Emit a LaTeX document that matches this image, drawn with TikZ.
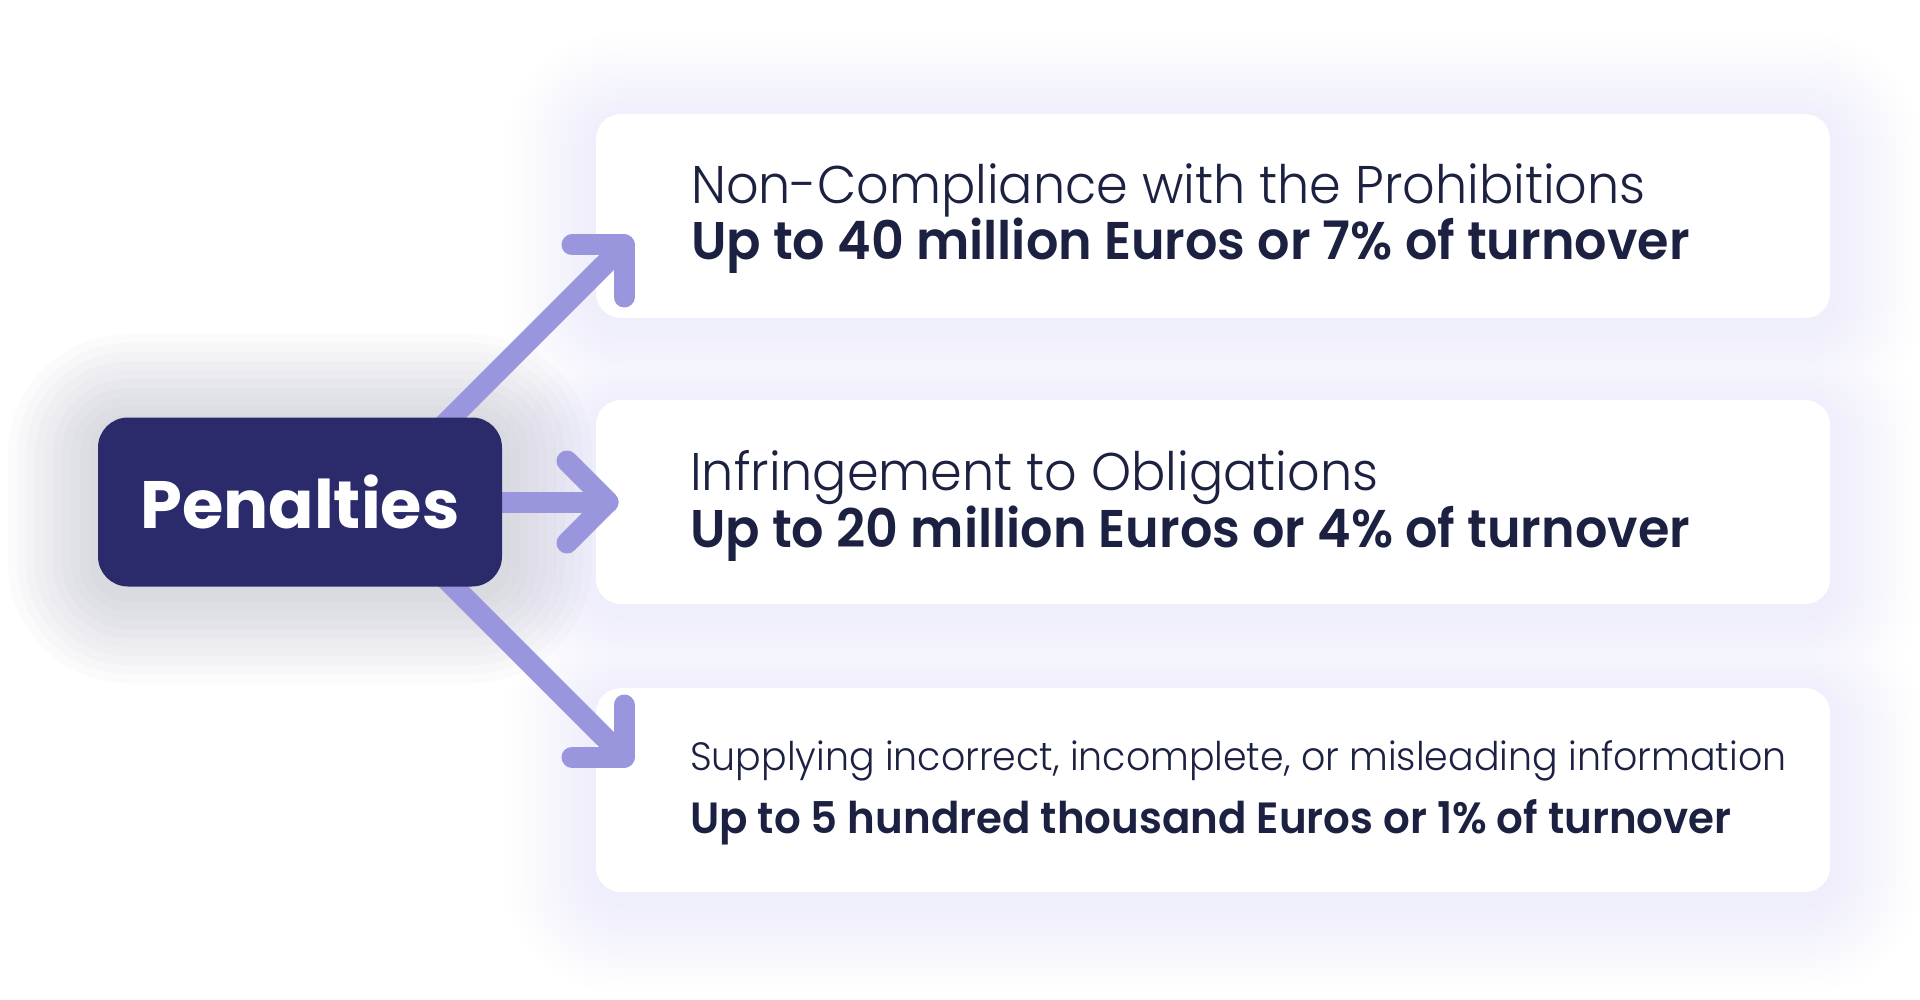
\documentclass[tikz,border=0pt]{standalone}
\usepackage{fontspec}
\setmainfont{Poppins}
\newfontfamily\lightf[FakeStretch=0.96]{Poppins Light}
\newfontfamily\boldf[FakeStretch=0.96]{Poppins SemiBold}
\newfontfamily\penf{Poppins Bold}
\usetikzlibrary{calc}
\definecolor{navy}{HTML}{2B2B6C}
\definecolor{lav}{HTML}{9996DD}
\definecolor{txt}{HTML}{1C2142}
\definecolor{glowmax}{HTML}{EFEEFB}
\definecolor{pshadow}{HTML}{646482}
\tikzset{
  card/.style={fill=white, rounded corners=25pt, minimum width=1234pt, minimum height=204pt, inner sep=0pt},
  penbox/.style={fill=navy, rounded corners=30pt, minimum width=404pt, minimum height=169pt, text=white, font=\penf\fontsize{67}{70}\selectfont, inner sep=0pt},
  arr/.style={draw=lav, line width=21pt, line cap=round, line join=round},
  lighttxt/.style={anchor=base west, text=txt, font=\lightf\fontsize{53}{58}\selectfont, inner sep=0pt},
  lightsmall/.style={anchor=base west, text=txt, font=\lightf\fontsize{39.5}{44}\selectfont, inner sep=0pt},
  boldtxt/.style={anchor=base west, text=txt, font=\boldf\fontsize{53}{58}\selectfont, inner sep=0pt},
  boldsmall/.style={anchor=base west, text=txt, font=\boldf\fontsize{43.7}{48}\selectfont, inner sep=0pt},
}
\begin{document}
\begin{tikzpicture}[x=1pt,y=-1pt]
\useasboundingbox (0,0) rectangle (1920,1000);
\fill[white] (0,0) rectangle (1920,1000);
% card glows (solid rings, outer to inner)
\foreach \k in {15,...,1} {
  \pgfmathsetmacro{\e}{6*\k}
  \pgfmathsetmacro{\r}{25+6*\k}
  \pgfmathtruncatemacro{\p}{100*(16-\k)/15}
  \foreach \cy in {216,502,790} {
    \fill[fill=glowmax!\p!white, rounded corners=\r pt]
      (596-\e, \cy-102-\e+10) rectangle (1830+\e, \cy+102+\e+10);
  }
}
% penalties shadow (translucent)
\foreach \k in {1,...,10} {
  \pgfmathsetmacro{\e}{9*\k}
  \pgfmathsetmacro{\r}{30+9*\k}
  \fill[pshadow, opacity=0.025, rounded corners=\r pt]
    (98-\e, 418-\e+6) rectangle (502+\e, 587+\e+6);
}
% cards
\node[card] (c1) at (1213,216) {};
\node[card] (c2) at (1213,502) {};
\node[card] (c3) at (1213,790) {};
% arrows
\coordinate (s1) at (440,429);
\coordinate (t1) at (624,245);
\coordinate (s2) at (470,502);
\coordinate (t2) at (608,502);
\coordinate (s3) at (440,573);
\coordinate (t3) at (624,757);
\draw[arr] (s1) -- (t1);
\draw[arr] ($(t1)+(-52,0)$) -- (t1) -- ($(t1)+(0,52)$);
\draw[arr] (s2) -- (t2);
\draw[arr] ($(t2)+(-41,-41)$) -- (t2) -- ($(t2)+(-41,41)$);
\draw[arr] (s3) -- (t3);
\draw[arr] ($(t3)+(-52,0)$) -- (t3) -- ($(t3)+(0,-52)$);
% penalties
\node[penbox] (pen) at (300,502) {Penalties};
% texts
\node[lighttxt] (l1) at (691,204) {Non-Compliance with the Prohibitions};
\node[boldtxt] (b1) at (691,260) {Up to 40 million Euros or 7\% of turnover};
\node[lighttxt] (l2) at (690,490) {Infringement to Obligations};
\node[boldtxt] (b2) at (690,547) {Up to 20 million Euros or 4\% of turnover};
\node[lightsmall] (l3) at (690,770) {Supplying incorrect, incomplete, or misleading information};
\node[boldsmall] (b3) at (690,833) {Up to 5 hundred thousand Euros or 1\% of turnover};
\end{tikzpicture}
\end{document}
